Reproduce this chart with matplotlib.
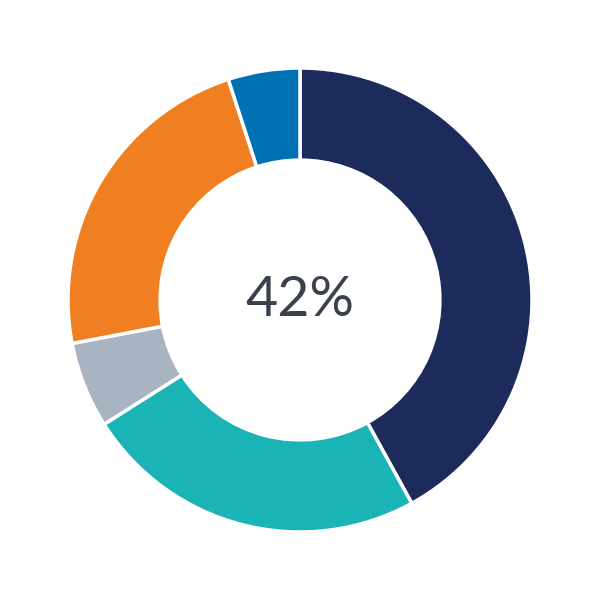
import matplotlib
matplotlib.use("Agg")
import matplotlib.pyplot as plt

# Segment shares, clockwise from top
labels = ["Navy", "Teal", "Gray", "Orange", "Blue"]
values = [42, 24, 6, 23, 5]
colors = ["#1c2b5b", "#1bb4b6", "#a9b4c2", "#f07f21", "#0071b3"]
center_text = "42%"

fig = plt.figure(figsize=(6, 6), dpi=100)
ax = fig.add_axes([0, 0, 1, 1])
ax.pie(values, colors=colors, startangle=90, counterclock=False, radius=1.0,
       wedgeprops=dict(width=0.397, edgecolor="white", linewidth=2.5))
lim = 300 / 232
ax.set_xlim(-lim, lim)
ax.set_ylim(-lim, lim)
ax.set_aspect("equal")
ax.axis("off")
ax.text(0, 0, center_text, ha="center", va="center", fontsize=40,
        color="#3a404c", family=["Lato", "DejaVu Sans"], fontweight="normal")

fig.savefig("out.png", dpi=100, facecolor="white")
